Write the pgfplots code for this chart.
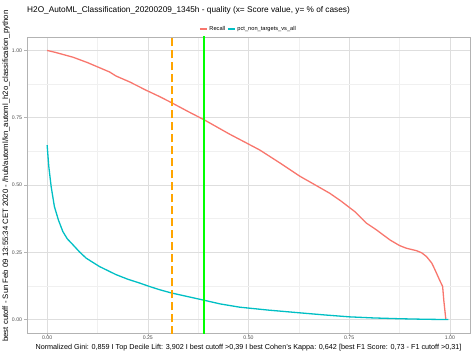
\documentclass[border=0pt]{standalone}
\usepackage{pgfplots}
\pgfplotsset{compat=1.18}
\usepackage{fontspec}
\setmainfont{Liberation Sans}
\definecolor{recall}{HTML}{F8766D}
\definecolor{pct}{HTML}{00BFC4}
\definecolor{vorange}{HTML}{FFA500}
\definecolor{vgreen}{HTML}{00FF00}
\definecolor{framec}{HTML}{B3B3B3}
\definecolor{gmaj}{HTML}{DEDEDE}
\definecolor{gmin}{HTML}{F0F0F0}
\definecolor{ticklab}{HTML}{4D4D4D}
\begin{document}
\begin{tikzpicture}[x=1bp,y=1bp]
\useasboundingbox (0,0) rectangle (474,355);
\begin{axis}[
  at={(27bp,22bp)}, anchor=south west,
  scale only axis, width=443bp, height=296bp,
  xmin=-0.05, xmax=1.05, ymin=-0.05, ymax=1.05,
  xtick={0,0.25,0.5,0.75,1}, xticklabels={0.00,0.25,0.50,0.75,1.00},
  ytick={0,0.25,0.5,0.75,1}, yticklabels={0.00,0.25,0.50,0.75,1.00},
  minor xtick={0.125,0.375,0.625,0.875},
  minor ytick={0.125,0.375,0.625,0.875},
  grid=both,
  major grid style={gmaj, line width=0.5bp},
  minor grid style={gmin, line width=0.3bp},
  minor tick length=0pt,
  major tick length=2.75bp,
  tick align=outside,
  tick pos=left,
  major tick style={framec, line width=0.5bp},
  axis line style={framec, line width=0.8bp},
  ticklabel style={font=\fontsize{5.2}{6}\selectfont, text=ticklab},
  xticklabel style={yshift=3bp},
  yticklabel style={anchor=east, inner sep=0pt, xshift=-2bp},
  title={H2O\_AutoML\_Classification\_20200209\_1345h - quality (x= Score value, y= \% of cases)},
  title style={at={(axis description cs:0,1)}, anchor=west, yshift=21bp, inner sep=0pt, font=\fontsize{8.3}{10}\selectfont},
  xlabel={Normalized Gini: 0,859 I Top Decile Lift: 3,902 I best cutoff >0,39 I best Cohen's Kappa: 0,642 [best F1 Score: 0,73 - F1 cutoff >0,31]},
  xlabel style={at={(axis description cs:0.5,0)}, anchor=center, yshift=-15bp, inner sep=0pt, font=\fontsize{7.25}{8}\selectfont},
  ylabel={best cutoff - Sun Feb 09 13:55:34 CET 2020 - /hub/automl/kn\_automl\_h2o\_classification\_python},
  ylabel style={at={(axis description cs:-0.0474,0.53)}, anchor=center, inner sep=0pt, font=\fontsize{7.8}{8}\selectfont},
  legend style={at={(axis description cs:0.5,1)}, anchor=south, yshift=2bp, draw=none, fill=none,
    font=\fontsize{5.7}{6.5}\selectfont, inner sep=1bp},
  legend columns=2,
  legend cell align=left,
  legend image code/.code={\draw[#1] (0bp,0bp) -- (7bp,0bp);},
  clip=true,
]
\addplot[recall, line width=1.3bp, line join=round] coordinates {
(0,1.0)(0.02,0.993)(0.064,0.975)(0.10,0.955)(0.155,0.92)(0.171,0.905)(0.205,0.883)(0.246,0.852)(0.28,0.828)(0.31,0.805)(0.35,0.773)(0.389,0.743)(0.453,0.689)(0.49,0.66)(0.528,0.63)(0.58,0.58)(0.627,0.533)(0.66,0.505)(0.702,0.469)(0.73,0.44)(0.764,0.401)(0.793,0.358)(0.818,0.333)(0.851,0.296)(0.875,0.275)(0.892,0.265)(0.917,0.256)(0.93,0.248)(0.942,0.234)(0.955,0.21)(0.963,0.185)(0.975,0.145)(0.982,0.123)(0.985,0.07)(0.990,0.0)
};
\addlegendentry{Recall}
\addplot[pct, line width=1.3bp, line join=round] coordinates {
(0,0.648)(0.004,0.57)(0.010,0.494)(0.018,0.42)(0.028,0.37)(0.039,0.327)(0.05,0.3)(0.064,0.278)(0.08,0.252)(0.097,0.228)(0.13,0.197)(0.171,0.167)(0.2,0.15)(0.229,0.136)(0.254,0.123)(0.279,0.111)(0.308,0.099)(0.35,0.085)(0.389,0.072)(0.43,0.058)(0.478,0.046)(0.55,0.035)(0.627,0.025)(0.69,0.017)(0.751,0.010)(0.81,0.006)(0.876,0.003)(0.94,0.001)(0.996,0)
};
\addlegendentry{pct\_non\_targets\_vs\_all}
\addplot[vorange, line width=1.8bp, dash pattern=on 8bp off 4bp, forget plot] coordinates {(0.31,-0.1)(0.31,1.1)};
\addplot[vgreen, line width=1.8bp, forget plot] coordinates {(0.39,-0.1)(0.39,1.1)};
\end{axis}
\end{tikzpicture}
\end{document}
